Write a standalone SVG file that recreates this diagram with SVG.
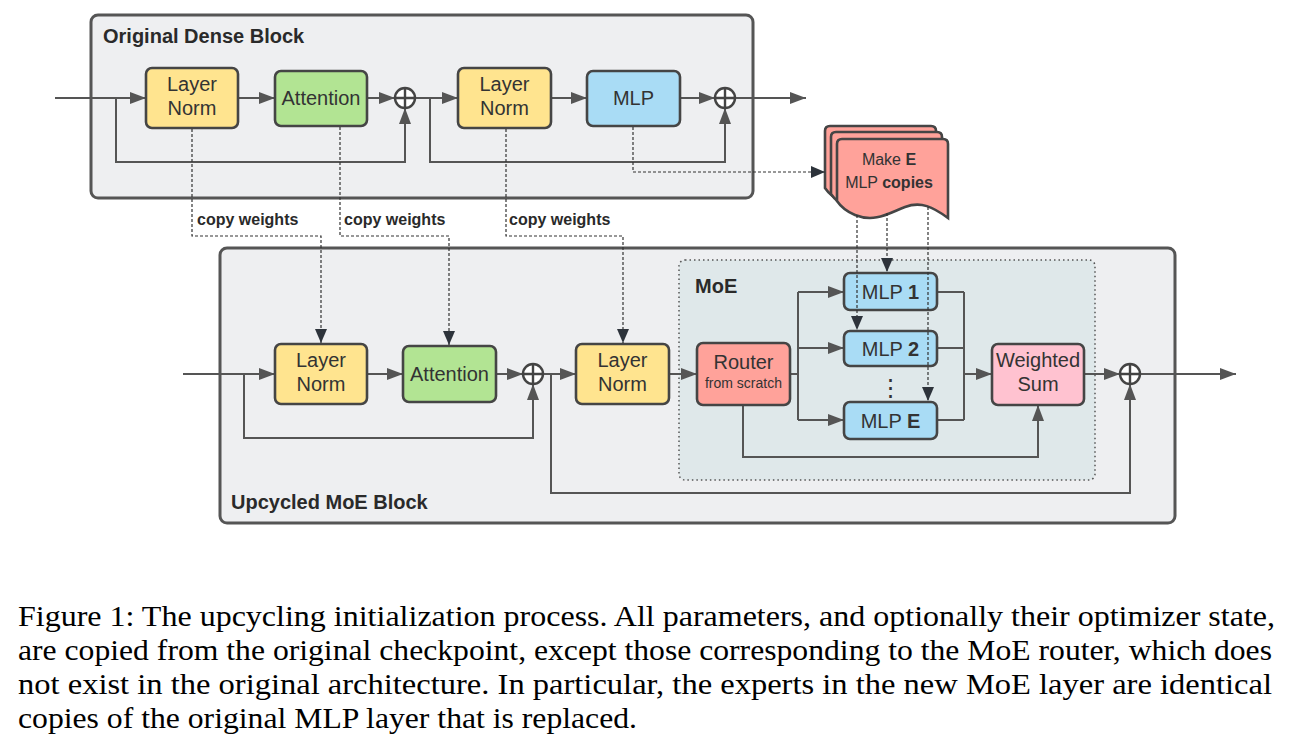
<svg xmlns="http://www.w3.org/2000/svg" width="1294" height="748" viewBox="0 0 1294 748">
<style>
  .blk { fill:#eeeff1; stroke:#555; stroke-width:3; }
  .moe { fill:#dfe8ea; stroke:#555; stroke-width:1.5; stroke-dasharray:1.5 3; }
  .nd { stroke:#454545; stroke-width:2.6; }
  .ln { fill:#ffe48f; }
  .at { fill:#b2e493; }
  .mlp { fill:#a9dcf5; }
  .rt { fill:#ffa29a; }
  .ws { fill:#ffc2d0; }
  .t { font-family:"Liberation Sans", Arial, sans-serif; fill:#333; }
  .lbl { font-size:20px; text-anchor:middle; }
  .ttl { font-size:20px; font-weight:bold; fill:#2a2a2a; }
  .cw { font-size:16px; font-weight:bold; fill:#2a2a2a; }
  .c { fill:none; stroke:#555; stroke-width:2; }
  .d { fill:none; stroke:#333; stroke-width:1.2; stroke-dasharray:3 2; }
  .plus { fill:#fff; stroke:#444; stroke-width:2.4; }
  .cap { font-family:"Liberation Serif", "Times New Roman", serif; font-size:30px; fill:#000; }
</style>
<defs>
  <marker id="ah" markerUnits="userSpaceOnUse" markerWidth="16" markerHeight="12" refX="16" refY="6" orient="auto">
    <path d="M0,0 L16,6 L0,12 Z" fill="#555"/>
  </marker>
  <marker id="dh" markerUnits="userSpaceOnUse" markerWidth="14" markerHeight="12" refX="14" refY="6" orient="auto">
    <path d="M0,0 L14,6 L0,12 Z" fill="#2d333b"/>
  </marker>
  <path id="page" d="M5,0 H106 Q111,0 111,5 V79 C96,68 84,62 68,68 C52,74 38,84 18,76 Q6,71 0,62 V5 Q0,0 5,0 Z"/>
</defs>

<g id="dense-block">
  <rect class="blk" x="91" y="15" width="662" height="183" rx="7"/>
  <text class="t ttl" x="103" y="43">Original Dense Block</text>
</g>
<g id="moe-block">
  <rect class="blk" x="220" y="248" width="955" height="275" rx="7"/>
  <text class="t ttl" x="231" y="509">Upcycled MoE Block</text>
</g>
<g id="moe-layer">
  <rect class="moe" x="679" y="260" width="416" height="220" rx="6"/>
  <text class="t ttl" x="695" y="293">MoE</text>
</g>

<g id="connectors">
  <path class="c" d="M55,98 H146" marker-end="url(#ah)"/>
  <path class="c" d="M116,98 V162 H405 V108" marker-end="url(#ah)"/>
  <path class="c" d="M238,98 H275" marker-end="url(#ah)"/>
  <path class="c" d="M367,98 H395" marker-end="url(#ah)"/>
  <path class="c" d="M415,98 H458" marker-end="url(#ah)"/>
  <path class="c" d="M430,98 V162 H725 V108" marker-end="url(#ah)"/>
  <path class="c" d="M551,98 H587" marker-end="url(#ah)"/>
  <path class="c" d="M680,98 H715" marker-end="url(#ah)"/>
  <path class="c" d="M735,98 H806" marker-end="url(#ah)"/>
  <path class="c" d="M183,374 H275" marker-end="url(#ah)"/>
  <path class="c" d="M244,374 V438 H533 V384" marker-end="url(#ah)"/>
  <path class="c" d="M367,374 H403" marker-end="url(#ah)"/>
  <path class="c" d="M496,374 H523" marker-end="url(#ah)"/>
  <path class="c" d="M543,374 H576" marker-end="url(#ah)"/>
  <path class="c" d="M551,374 V493 H1130 V384" marker-end="url(#ah)"/>
  <path class="c" d="M669,374 H697" marker-end="url(#ah)"/>
  <path class="c" d="M790,374 H798 M798,292 V420"/>
  <path class="c" d="M798,292 H844" marker-end="url(#ah)"/>
  <path class="c" d="M798,348 H844" marker-end="url(#ah)"/>
  <path class="c" d="M798,420 H844" marker-end="url(#ah)"/>
  <path class="c" d="M937,292 H964 M937,348 H964 M937,420 H964 M964,292 V420"/>
  <path class="c" d="M964,374 H992" marker-end="url(#ah)"/>
  <path class="c" d="M743,405 V457 H1038 V405" marker-end="url(#ah)"/>
  <path class="c" d="M1084,374 H1120" marker-end="url(#ah)"/>
  <path class="c" d="M1140,374 H1236" marker-end="url(#ah)"/>
</g>

<g id="dense-ln1"><rect class="nd ln" x="146" y="68" width="92" height="60" rx="6"/>
  <text class="t lbl" x="192" y="91">Layer</text><text class="t lbl" x="192" y="115">Norm</text></g>
<g id="dense-attn"><rect class="nd at" x="275" y="71" width="92" height="55" rx="6"/>
  <text class="t lbl" x="321" y="105">Attention</text></g>
<g id="dense-add1"><circle class="plus" cx="405" cy="98" r="10"/><path d="M395,98 H415 M405,88 V108" stroke="#444" stroke-width="2.4"/></g>
<g id="dense-ln2"><rect class="nd ln" x="458" y="68" width="93" height="60" rx="6"/>
  <text class="t lbl" x="504.5" y="91">Layer</text><text class="t lbl" x="504.5" y="115">Norm</text></g>
<g id="dense-mlp"><rect class="nd mlp" x="587" y="71" width="93" height="55" rx="6"/>
  <text class="t lbl" x="633.5" y="105">MLP</text></g>
<g id="dense-add2"><circle class="plus" cx="725" cy="98" r="10"/><path d="M715,98 H735 M725,88 V108" stroke="#444" stroke-width="2.4"/></g>

<g id="copies">
  <use href="#page" x="825" y="126" fill="#ffa29a" stroke="#454545" stroke-width="2.6"/>
  <use href="#page" x="831" y="132" fill="#ffa29a" stroke="#454545" stroke-width="2.6"/>
  <use href="#page" x="837" y="139" fill="#ffa29a" stroke="#454545" stroke-width="2.6"/>
  <text class="t" x="889" y="165" font-size="16" text-anchor="middle">Make <tspan font-weight="bold">E</tspan></text>
  <text class="t" x="889" y="188" font-size="16" text-anchor="middle">MLP <tspan font-weight="bold">copies</tspan></text>
</g>

<g id="moe-ln1"><rect class="nd ln" x="275" y="344" width="92" height="60" rx="6"/>
  <text class="t lbl" x="321" y="367">Layer</text><text class="t lbl" x="321" y="391">Norm</text></g>
<g id="moe-attn"><rect class="nd at" x="403" y="346" width="93" height="56" rx="6"/>
  <text class="t lbl" x="449.5" y="381">Attention</text></g>
<g id="moe-add1"><circle class="plus" cx="533" cy="374" r="10"/><path d="M523,374 H543 M533,364 V384" stroke="#444" stroke-width="2.4"/></g>
<g id="moe-ln2"><rect class="nd ln" x="576" y="344" width="93" height="60" rx="6"/>
  <text class="t lbl" x="622.5" y="367">Layer</text><text class="t lbl" x="622.5" y="391">Norm</text></g>
<g id="router"><rect class="nd rt" x="697" y="343" width="93" height="62" rx="6"/>
  <text class="t lbl" x="743.5" y="369">Router</text>
  <text class="t" x="743.5" y="388" font-size="14" text-anchor="middle">from scratch</text></g>
<g id="mlp1"><rect class="nd mlp" x="844" y="273" width="93" height="37" rx="6"/>
  <text class="t lbl" x="890.5" y="299">MLP <tspan font-weight="bold">1</tspan></text></g>
<g id="mlp2"><rect class="nd mlp" x="844" y="331" width="93" height="35" rx="6"/>
  <text class="t lbl" x="890.5" y="356">MLP <tspan font-weight="bold">2</tspan></text></g>
<g id="dots"><text x="890.5" y="396" font-family="DejaVu Sans, sans-serif" font-size="24" fill="#333" text-anchor="middle">⋮</text></g>
<g id="mlpE"><rect class="nd mlp" x="844" y="402" width="93" height="37" rx="6"/>
  <text class="t lbl" x="890.5" y="428">MLP <tspan font-weight="bold">E</tspan></text></g>
<g id="wsum"><rect class="nd ws" x="992" y="344" width="92" height="61" rx="6"/>
  <text class="t lbl" x="1038" y="367">Weighted</text><text class="t lbl" x="1038" y="391">Sum</text></g>
<g id="moe-add2"><circle class="plus" cx="1130" cy="374" r="10"/><path d="M1120,374 H1140 M1130,364 V384" stroke="#444" stroke-width="2.4"/></g>

<g id="copy-connectors">
  <path class="d" d="M192,129 V236 H321 V343" marker-end="url(#dh)"/>
  <path class="d" d="M340,127 V236 H449 V345" marker-end="url(#dh)"/>
  <path class="d" d="M506,129 V236 H623 V343" marker-end="url(#dh)"/>
  <path class="d" d="M633,127 V172 H825" marker-end="url(#dh)"/>
  <path class="d" d="M887,213 V272" marker-end="url(#dh)"/>
  <path class="d" d="M857,215 V330" marker-end="url(#dh)"/>
  <path class="d" d="M928,207 V401" marker-end="url(#dh)"/>
  <text class="t cw" x="197" y="225">copy weights</text>
  <text class="t cw" x="344" y="225">copy weights</text>
  <text class="t cw" x="509" y="225">copy weights</text>
</g>

<g id="caption">
  <text class="cap" x="18" y="626" textLength="1257" lengthAdjust="spacingAndGlyphs">Figure 1: The upcycling initialization process. All parameters, and optionally their optimizer state,</text>
  <text class="cap" x="18" y="660" textLength="1254" lengthAdjust="spacingAndGlyphs">are copied from the original checkpoint, except those corresponding to the MoE router, which does</text>
  <text class="cap" x="18" y="694" textLength="1254" lengthAdjust="spacingAndGlyphs">not exist in the original architecture. In particular, the experts in the new MoE layer are identical</text>
  <text class="cap" x="18" y="728" textLength="619" lengthAdjust="spacingAndGlyphs">copies of the original MLP layer that is replaced.</text>
</g>
</svg>
